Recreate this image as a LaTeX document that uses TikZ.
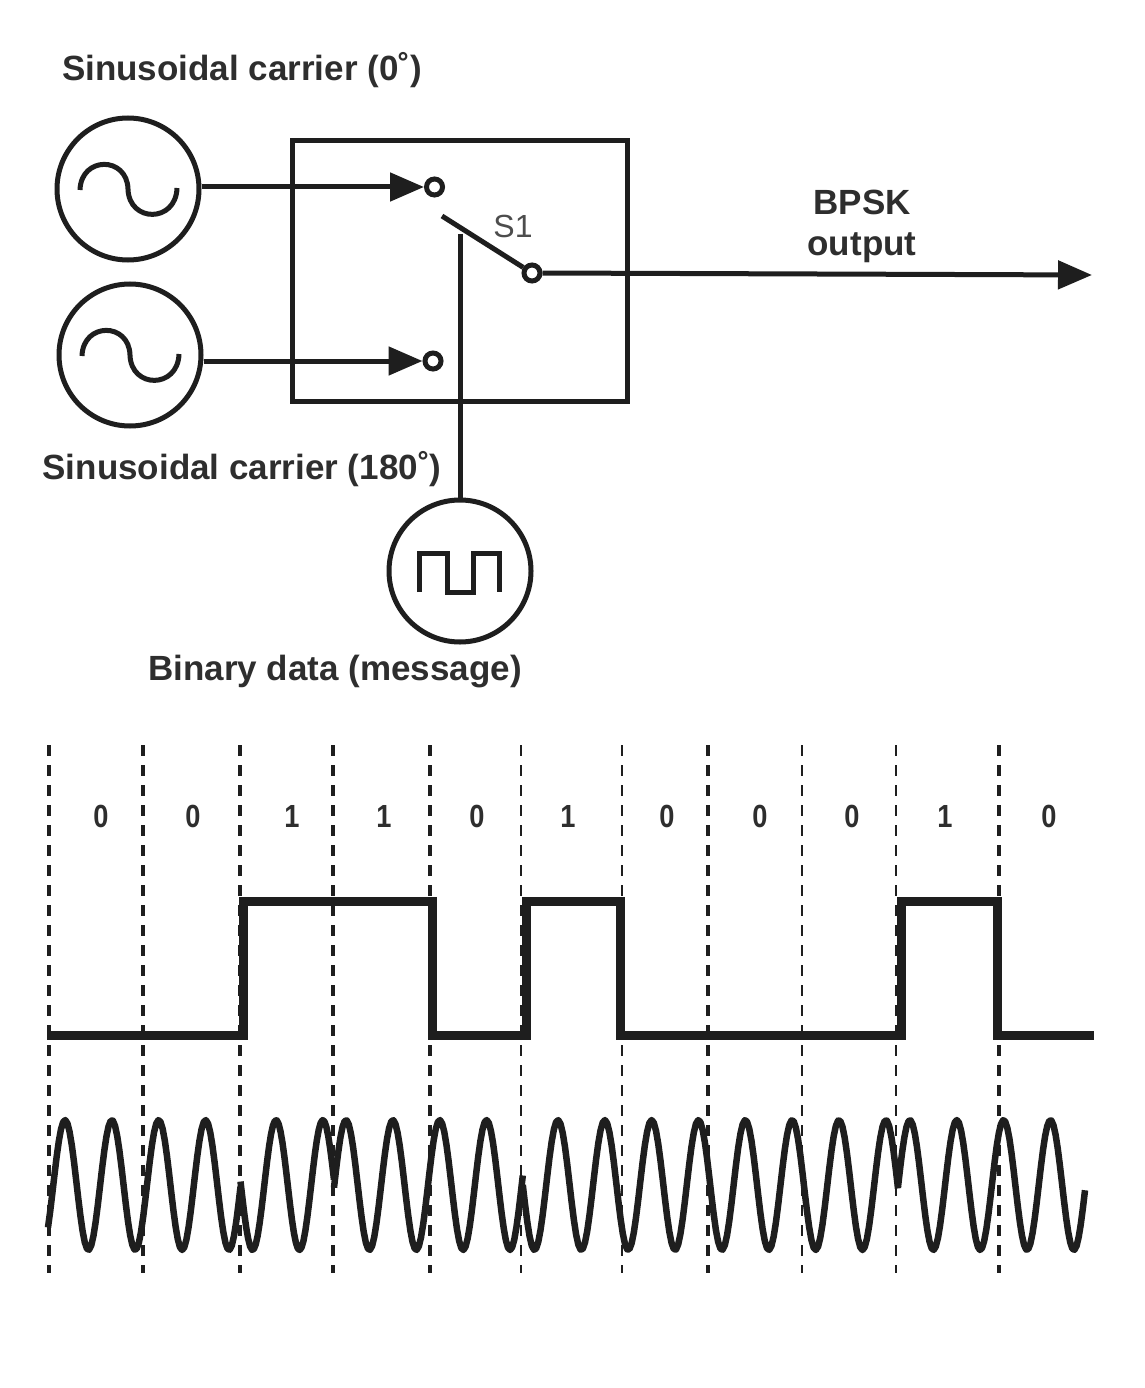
\documentclass[tikz,border=0pt]{standalone}
\usepackage{fontspec}
\setmainfont{Liberation Sans}
\usetikzlibrary{arrows.meta}
\definecolor{ink}{HTML}{1E1E1E}
\definecolor{lab}{HTML}{2E2E2E}
\tikzset{
  src/.style={draw=ink,circle,line width=5pt,minimum size=142pt,inner sep=0pt},
  term/.style={draw=ink,circle,line width=5pt,minimum size=16pt,inner sep=0pt,fill=white},
  wire/.style={draw=ink,line width=5pt},
  feed/.style={wire,-{Triangle[length=34pt,width=28pt]}},
  boldlab/.style={font=\fontsize{35}{42}\selectfont\bfseries,text=lab,inner sep=0pt,align=center},
  bitlab/.style={font=\fontsize{32}{36}\selectfont\bfseries,text=lab,inner sep=0pt,xscale=.85},
  bound/.style={draw=ink,dash pattern=on 11pt off 9pt},
  wave/.style={draw=ink,line width=6.5pt,line join=round},
  digital/.style={draw=ink,line width=9pt,line join=miter},
  glyph/.style={draw=ink,line width=5pt,line join=miter}
}
\begin{document}
\begin{tikzpicture}[x=1pt,y=-1pt]
\useasboundingbox (0,0) rectangle (1144,1388);
\fill[white] (0,0) rectangle (1144,1388);

% switch box
\node[draw=ink,line width=5pt,minimum width=335pt,minimum height=260pt,inner sep=0pt] (box) at (459.5,271) {};

% sources
\node[src] (c1) at (128,189) {};
\node[src] (c2) at (130,355) {};
\node[src] (d) at (460,571) {};

\draw[glyph,shift={(c1.center)}] (-48,1) .. controls (-47,-33) and (-1,-33) .. (0,0) .. controls (1,34) and (48,34) .. (49,-1);
\draw[glyph,shift={(c2.center)}] (-48,1) .. controls (-47,-33) and (-1,-33) .. (0,0) .. controls (1,34) and (48,34) .. (49,-1);
\draw[glyph] (419,592) -- (419,553) -- (447,553) -- (447,592) -- (473,592) -- (473,553) -- (499,553) -- (499,592);

% terminals
\node[term] (t1) at (434.5,187) {};
\node[term] (t2) at (433,361) {};
\node[term] (t3) at (532,273) {};
\coordinate (blade) at (442,216);
\coordinate (ctl) at (460,234);
\coordinate (out) at (1092,275);

\draw[feed] (c1.east |- t1.west) -- (t1.west);
\draw[feed] (c2.east |- t2.west) -- (t2.west);
\draw[wire] (blade) -- (t3);
\draw[wire] (ctl) -- (d.north);
\draw[feed] (t3.east) -- (out);

% labels
\node[boldlab] (l1) at (242,70) {Sinusoidal carrier (0˚)};
\node[boldlab] (l2) at (242,469) {Sinusoidal carrier (180˚)};
\node[boldlab] (l3) at (335,672) {Binary data (message)};
\node[boldlab] (l4) at (862,202) {BPSK};
\node[boldlab] (l5) at (862,248) {output};
\node[font=\fontsize{32}{36}\selectfont,text=lab!85,inner sep=0pt] (s1) at (513,226) {S1};

% bit boundaries
\foreach \px/\w in {49/4,143/4,240/4,333/4,430/4,521/2.5,622/2.5,708/4,802/2,896/2,999/4}
  \draw[bound,line width=\w pt] (\px,745) -- (\px,1273);

% bits
\foreach \px/\b in {101/0,193/0,292/1,384/1,477/0,568/1,667/0,760/0,852/0,945/1,1049/0}
  \node[bitlab] at (\px,816) {\b};

% binary waveform
\draw[digital] (47,1035) -- (243,1035) -- (243,901) -- (432,901) -- (432,1035) -- (526,1035) -- (526,901) -- (620,901) -- (620,1035) -- (901,1035) -- (901,901) -- (997,901) -- (997,1035) -- (1094,1035);

% BPSK waveform
\draw[wave] plot[domain=48:240.5,samples=90] (\x,{1185-65*sin(7.684*(\x-53.3))});
\draw[wave] plot[domain=240.5:334,samples=50] (\x,{1185+65*sin(7.684*(\x-240.9))});
\draw[wave] plot[domain=334:522.8,samples=90] (\x,{1185-65*sin(7.684*(\x-334.3))});
\draw[wave] plot[domain=522.8:898,samples=170] (\x,{1185+65*sin(7.684*(\x-522.8))});
\draw[wave] plot[domain=898:1085,samples=90] (\x,{1185-65*sin(7.684*(\x-898.2))});
\end{tikzpicture}
\end{document}
